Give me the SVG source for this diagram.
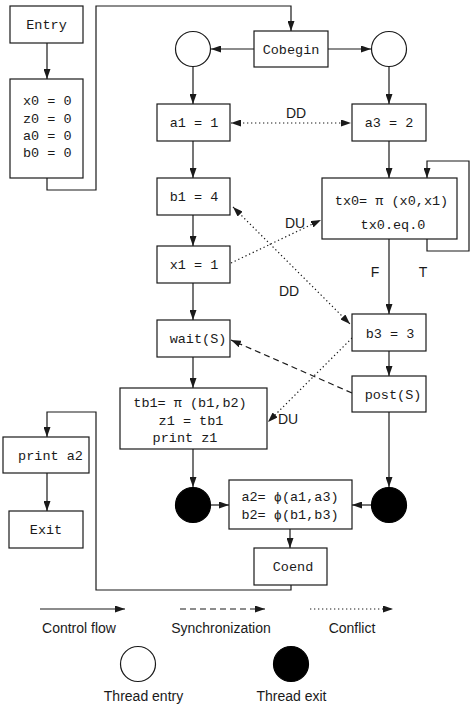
<svg xmlns="http://www.w3.org/2000/svg" width="474" height="707" viewBox="0 0 474 707">
<style>
.box{fill:#fff;stroke:#1a1a1a;stroke-width:1.2}
.m{font-family:"Liberation Mono","DejaVu Sans Mono",monospace;font-size:13.5px;fill:#1a1a1a;text-anchor:middle}
.s{font-family:"Liberation Sans",Arial,sans-serif;font-size:14px;fill:#1a1a1a}
.c{text-anchor:middle}
.ln{fill:none;stroke:#1a1a1a;stroke-width:1.2}
.ctl{marker-end:url(#a)}
.dot{stroke-dasharray:1.3 2.7}
.dash{stroke-dasharray:6 4}
.ent{fill:#fff;stroke:#1a1a1a;stroke-width:1.2}
.ext{fill:#000;stroke:#000;stroke-width:1.2}
</style>
<defs>
<marker id="a" viewBox="0 0 10 7" refX="10" refY="3.5" markerWidth="10" markerHeight="7" markerUnits="userSpaceOnUse" orient="auto-start-reverse"><path d="M0,0 L10,3.5 L0,7 z" fill="#1a1a1a"/></marker>
</defs>
<rect width="474" height="707" fill="#fff"/>
<g id="connectors">
<path class="ln ctl" d="M47,43 V79"/>
<path class="ln ctl" d="M47,178 V190 H96 V6 H291 V31"/>
<path class="ln ctl" d="M254,49 H211"/>
<path class="ln ctl" d="M328,49 H371"/>
<path class="ln ctl" d="M193,67 V104"/>
<path class="ln ctl" d="M193,141 V178"/>
<path class="ln ctl" d="M193,215 V246"/>
<path class="ln ctl" d="M193,283 V320"/>
<path class="ln ctl" d="M193,357 V388"/>
<path class="ln ctl" d="M193,449 V487"/>
<path class="ln ctl" d="M211,505 H229"/>
<path class="ln ctl" d="M389,67 V104"/>
<path class="ln ctl" d="M389,141 V178"/>
<path class="ln ctl" d="M427,239 V251 H469 V161 H427 V178"/>
<path class="ln ctl" d="M389,239 V314"/>
<path class="ln ctl" d="M389,351 V376"/>
<path class="ln ctl" d="M389,412 V487"/>
<path class="ln ctl" d="M371,505 H352"/>
<path class="ln ctl" d="M290,529 V548"/>
<path class="ln ctl" d="M291,585 V590 H96 V412 H47 V437"/>
<path class="ln ctl" d="M47,473 V511"/>
<path class="ln dot" d="M231,123 H351" marker-start="url(#a)" marker-end="url(#a)"/>
<path class="ln dot ctl" d="M231,263 L321,220"/>
<path class="ln dot" d="M233,207 L350,324" marker-start="url(#a)" marker-end="url(#a)"/>
<path class="ln dot ctl" d="M352,338 L268,422"/>
<path class="ln dash ctl" d="M352,393 L231,340"/>
<text class="s c" x="296" y="118">DD</text>
<text class="s c" x="295" y="228">DU</text>
<text class="s c" x="289" y="296">DD</text>
<text class="s" x="278" y="424">DU</text>
<text class="s c" x="375" y="277">F</text>
<text class="s c" x="423" y="277">T</text>
</g>
<g id="entry"><rect class="box" x="10" y="6" width="73" height="37"/><text class="m" x="46.5" y="29">Entry</text></g>
<g id="init"><rect class="box" x="10" y="79" width="73" height="99"/>
<text class="m" x="23" y="105" style="text-anchor:start">x0 = 0</text>
<text class="m" x="23" y="123" style="text-anchor:start">z0 = 0</text>
<text class="m" x="23" y="140" style="text-anchor:start">a0 = 0</text>
<text class="m" x="23" y="157" style="text-anchor:start">b0 = 0</text></g>
<g id="cobegin"><rect class="box" x="254" y="31" width="74" height="36"/><text class="m" x="291" y="54">Cobegin</text></g>
<g id="entryL"><circle class="ent" cx="193" cy="49" r="17.5"/></g>
<g id="entryR"><circle class="ent" cx="389" cy="49" r="17.5"/></g>
<g id="a1"><rect class="box" x="157" y="104" width="73" height="37"/><text class="m" x="194" y="127">a1 = 1</text></g>
<g id="a3"><rect class="box" x="352" y="104" width="74" height="37"/><text class="m" x="389" y="127">a3 = 2</text></g>
<g id="b1"><rect class="box" x="157" y="178" width="73" height="37"/><text class="m" x="194" y="201">b1 = 4</text></g>
<g id="x1"><rect class="box" x="157" y="246" width="73" height="37"/><text class="m" x="194" y="269">x1 = 1</text></g>
<g id="wait"><rect class="box" x="157" y="320" width="73" height="37"/><text class="m" x="198" y="343">wait(S)</text></g>
<g id="tx0"><rect class="box" x="322" y="178" width="135" height="61"/>
<text class="m" x="391.5" y="205">tx0= π (x0,x1)</text>
<text class="m" x="393" y="229">tx0.eq.0</text></g>
<g id="b3"><rect class="box" x="352" y="314" width="74" height="37"/><text class="m" x="390" y="338">b3 = 3</text></g>
<g id="post"><rect class="box" x="352" y="376" width="74" height="36"/><text class="m" x="393" y="399">post(S)</text></g>
<g id="tb1"><rect class="box" x="120" y="388" width="147" height="61"/>
<text class="m" x="190" y="407">tb1= π (b1,b2)</text>
<text class="m" x="191" y="425">z1 = tb1</text>
<text class="m" x="185" y="442">print z1</text></g>
<g id="exitL"><circle class="ext" cx="193" cy="505" r="17.5"/></g>
<g id="exitR"><circle class="ext" cx="389" cy="505" r="17.5"/></g>
<g id="phi"><rect class="box" x="229" y="480" width="123" height="49"/>
<text class="m" x="290" y="501">a2= ϕ(a1,a3)</text>
<text class="m" x="290" y="519">b2= ϕ(b1,b3)</text></g>
<g id="coend"><rect class="box" x="254" y="548" width="73" height="37"/><text class="m" x="293" y="571">Coend</text></g>
<g id="printa2"><rect class="box" x="3" y="437" width="86" height="36"/><text class="m" x="50.5" y="460">print a2</text></g>
<g id="exit"><rect class="box" x="9" y="511" width="74" height="37"/><text class="m" x="46" y="534">Exit</text></g>
<g id="legend">
<path class="ln ctl" d="M40,609 H125"/>
<path class="ln dash ctl" d="M180,609 H265"/>
<path class="ln dot ctl" d="M310,609 H393"/>
<text class="s c" x="79" y="633">Control flow</text>
<text class="s c" x="221" y="633">Synchronization</text>
<text class="s c" x="352" y="633">Conflict</text>
<circle class="ent" cx="138" cy="664" r="17.5"/>
<circle class="ext" cx="291" cy="664" r="17.5"/>
<text class="s c" x="143.5" y="701">Thread entry</text>
<text class="s c" x="291.5" y="701">Thread exit</text>
</g>
</svg>
